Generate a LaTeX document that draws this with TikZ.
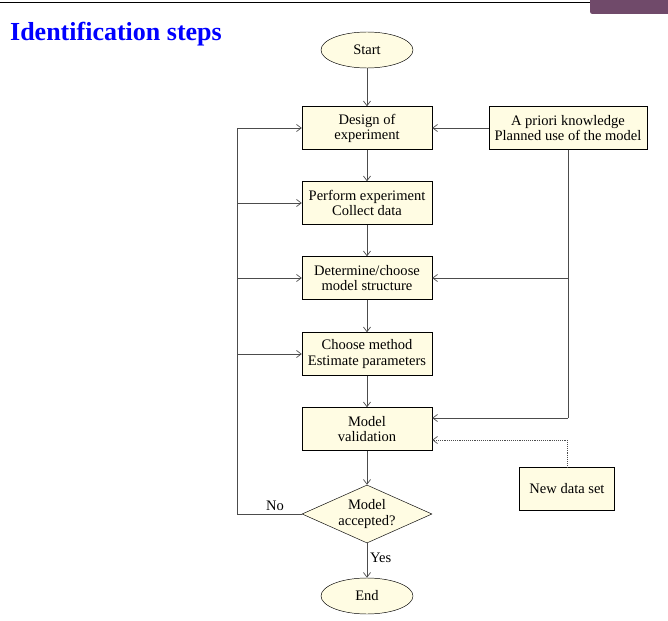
\documentclass[tikz,border=0pt]{standalone}
\usepackage{fontspec}
\setmainfont{Liberation Serif}
\usepackage{tikz}
\usetikzlibrary{calc,shapes,arrows.meta,positioning}
\usepackage{xcolor}
\definecolor{boxfill}{HTML}{FFFCE3}
\definecolor{barcol}{HTML}{704A6A}
\tikzset{
	stepbox/.style={draw,fill=boxfill,align=center,minimum width=3.9cm,minimum height=1.29cm,inner sep=1pt},
	termbox/.style={draw,ellipse,fill=boxfill,minimum width=2.76cm,minimum height=1.08cm,inner sep=1pt},
	decbox/.style={draw,diamond,fill=boxfill,align=center,minimum width=3.9cm,minimum height=1.74cm,inner sep=0pt,shape aspect=2.2},
	link/.style={draw=black!70,line width=0.6pt}
}

\begin{document}
\begin{tikzpicture}[x=0.03cm,y=-0.03cm,font=\fontsize{12.4}{12.9}\selectfont,>={Straight Barb[length=4pt,width=6pt]}]
		\useasboundingbox (0,0) rectangle (668,621);
		\draw[line width=0.8pt] (0,2.5) -- (590,2.5);
		\fill[barcol] (668,0) -- (590,0) [rounded corners=2pt] -- (590,14) [sharp corners] -- (668,14) -- cycle;
		\node[anchor=west,text=blue,font=\fontsize{22.2}{25}\selectfont\bfseries] (title) at (6,34) {Identification steps};
		
		\node[termbox] (start) at (367,50) {Start};
		\node[stepbox] (design) at (367,128) {Design of\\experiment};
		\node[stepbox] (perform) at (367,203) {Perform experiment\\Collect data};
		\node[stepbox] (determine) at (367,278) {Determine/choose\\model structure};
		\node[stepbox] (choose) at (367,354) {Choose method\\Estimate parameters};
		\node[stepbox] (valid) at (367,429) {Model\\validation};
		\node[decbox] (accept) at (367,514) {Model\\accepted?};
		\node[termbox] (end) at (367,596) {End};
		\node[stepbox,minimum width=4.74cm] (apriori) at (568,128) {A priori knowledge\\Planned use of the model};
		\node[stepbox,minimum width=2.85cm] (newdata) at (567,489) {New data set};
		
		% main chain
		\foreach \a/\b in {start/design,design/perform,perform/determine,determine/choose,choose/valid,valid/accept,accept/end}
		\draw[link,->] (\a) -- (\b);
		\node[anchor=west] (yes) at (366,558) {Yes};
		
		% feedback when rejected
		\coordinate (fb) at (237,514);
		\draw[link] (accept.west) -- (fb) -- (fb |- design.west);
		\node (no) at (275,506) {No};
		\foreach \n in {design,perform,determine,choose}
		\draw[link,->] (fb |- \n.west) -- (\n.west);
		
		% prior knowledge
		\coordinate (rt) at (567,418);
		\draw[link,->] (apriori.west) -- (design.east);
		\draw[link] (apriori.south) -- (apriori.south |- rt);
		\draw[link,->] (apriori.south |- determine.east) -- (determine.east);
		\draw[link,->] (apriori.south |- rt) -- (rt -| valid.east);
		
		% new data
		\coordinate (dt) at (567,440);
		\draw[link,densely dotted,->] (newdata.north) -- (dt) -- (dt -| valid.east);
	\end{tikzpicture}
\end{document}
